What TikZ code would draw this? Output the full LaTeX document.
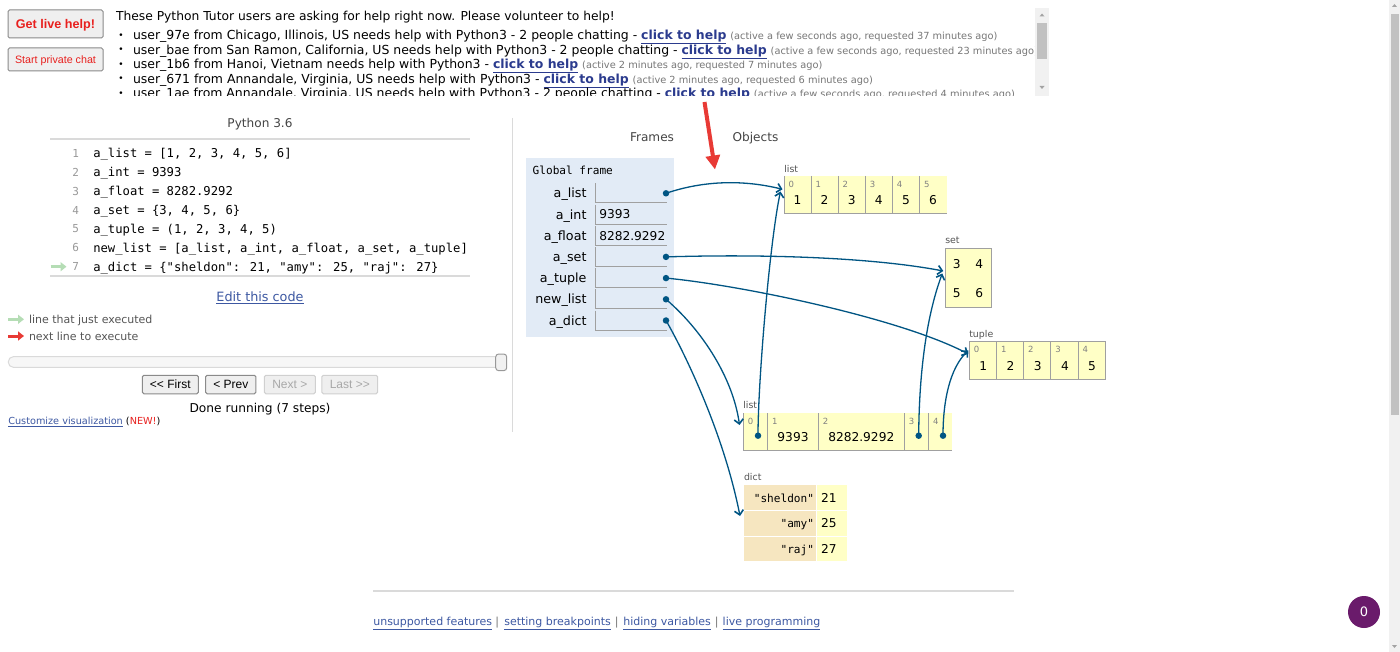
\documentclass[tikz,border=0pt]{standalone}
\usepackage{fontspec}
\setmainfont{DejaVu Sans}
\newfontfamily\arialf{Liberation Sans}
\newfontfamily\monof{DejaVu Sans Mono}
\usetikzlibrary{arrows.meta}
\definecolor{ptblue}{HTML}{005583}
\definecolor{objfill}{HTML}{FFFFC6}
\definecolor{framefill}{HTML}{E2EBF6}
\definecolor{keyfill}{HTML}{F6E6C0}
\definecolor{cellgray}{HTML}{A0A0A0}
\definecolor{linkblue}{HTML}{3D58A2}
\definecolor{helpblue}{HTML}{2B3B8E}
\definecolor{txtgray}{HTML}{444444}
\definecolor{idxgray}{HTML}{808080}
\definecolor{lblgray}{HTML}{555555}
\definecolor{lngray}{HTML}{999999}
\definecolor{actgray}{HTML}{777777}
\definecolor{purp}{HTML}{6A1B6B}
\definecolor{btnborder}{HTML}{8A8A8A}
\definecolor{btnfill}{HTML}{EFEFEF}
\definecolor{btnred}{HTML}{E8201E}
\definecolor{dimborder}{HTML}{D0D0D0}
\definecolor{dimtext}{HTML}{A8A8A8}
\definecolor{rulegray}{HTML}{DADADA}
\definecolor{sbtrack}{HTML}{F1F1F1}
\definecolor{sbthumb}{HTML}{C1C1C1}
\definecolor{sbarrow}{HTML}{A3A3A3}
\definecolor{arrgreen}{HTML}{B5DDB5}
\definecolor{arrred}{HTML}{E83A35}
\newcommand\ptclick{{\color{helpblue}\underline{\textbf{click to help}}}}
\newcommand\ptact[1]{{\fontsize{9.8}{10}\selectfont\color{actgray}#1}}
\begin{document}
\begin{tikzpicture}[x=1pt,y=-1pt,
  every node/.style={inner sep=0pt,outer sep=0pt},
  fs/.style={font=\fontsize{#1}{#1}\selectfont,text height={0.73*#1pt},text depth=0pt},
  ms/.style={font=\monof\fontsize{#1}{#1}\selectfont,text height={0.73*#1pt},text depth=0pt},
  as/.style={font=\arialf\fontsize{#1}{#1}\selectfont,text height={0.73*#1pt},text depth=0pt},
  cell/.style={draw=cellgray,line width=0.9pt},
  ptr/.style={draw=ptblue,line width=1.3pt,-{Straight Barb[length=4.5pt,width=9pt,line width=1.6pt]}},
  dot/.style={circle,fill=ptblue,minimum size=6.5pt},
  idx/.style={fs=8.5,text=idxgray,anchor=west},
  val/.style={fs=12.2},
  hlbl/.style={fs=9.4,text=lblgray,anchor=west},
  btn/.style={draw=btnborder,fill=btnfill,line width=1pt,rounded corners=1.5pt},
  navbtn/.style={btn,as=12,minimum height=18.5pt},
  dimbtn/.style={draw=dimborder,fill=btnfill,line width=1pt,rounded corners=1.5pt,as=12,minimum height=18.5pt,text=dimtext},
  lnk/.style={fs=11,text=linkblue,anchor=west},
  legarrow/.style={line width=3pt,-{Triangle[length=6pt,width=9pt]}}
]
\useasboundingbox (0,0) rectangle (1400,652);
\fill[white] (0,0) rectangle (1400,652);

% ---------- top help area ----------
\node[btn,as=12.6,minimum width=95pt,minimum height=28pt,text=btnred] (bhelp) at (55.5,24) {\bfseries Get live help!};
\node[btn,as=10.7,minimum width=95pt,minimum height=23pt,text=btnred] (bchat) at (55.5,59.5) {Start private chat};
\node[fs=12.3,anchor=west] (hdr) at (116,16) {These Python Tutor users are asking for help right now. Please volunteer to help!};
\begin{scope}
\clip (105,26) rectangle (1034,96);
\foreach \k/\yy in {1/35,2/49.5,3/64,4/78.5,5/93} {\node[fs=9] (bul\k) at (121,\yy) {\textbullet};}
\node[fs=12.45,anchor=west] (u1) at (133,35) {user\_97e from Chicago, Illinois, US needs help with Python3 - 2 people chatting - \ptclick{} \ptact{(active a few seconds ago, requested 37 minutes ago)}};
\node[fs=12.45,anchor=west] (u2) at (133,49.5) {user\_bae from San Ramon, California, US needs help with Python3 - 2 people chatting - \ptclick{} \ptact{(active a few seconds ago, requested 23 minutes ago)}};
\node[fs=12.45,anchor=west] (u3) at (133,64) {user\_1b6 from Hanoi, Vietnam needs help with Python3 - \ptclick{} \ptact{(active 2 minutes ago, requested 7 minutes ago)}};
\node[fs=12.45,anchor=west] (u4) at (133,78.5) {user\_671 from Annandale, Virginia, US needs help with Python3 - \ptclick{} \ptact{(active 2 minutes ago, requested 6 minutes ago)}};
\node[fs=12.45,anchor=west] (u5) at (133,93) {user\_1ae from Annandale, Virginia, US needs help with Python3 - 2 people chatting - \ptclick{} \ptact{(active a few seconds ago, requested 4 minutes ago)}};
\end{scope}
\fill[sbtrack] (1035,8) rectangle (1049,96);
\fill[sbthumb] (1037,23) rectangle (1047,59);
\fill[sbarrow] (1039.5,16.5) -- (1044.5,16.5) -- (1042,13.5) -- cycle;
\fill[sbarrow] (1039.5,86) -- (1044.5,86) -- (1042,89) -- cycle;

% ---------- code panel ----------
\node[fs=12.1,text=txtgray] (pyver) at (260,123) {Python 3.6};
\draw[rulegray,line width=2pt] (50,139.3) -- (470,139.3);
\foreach \i/\yy in {1/153.3,2/172.2,3/191.1,4/210,5/228.9,6/247.8,7/266.7} {\node[ms=11,text=lngray,anchor=east] (n\i) at (79,\yy) {\i};}
\node[ms=12.2,anchor=west] (c1) at (93.3,153.3) {a\_list = [1, 2, 3, 4, 5, 6]};
\node[ms=12.2,anchor=west] (c2) at (93.3,172.2) {a\_int = 9393};
\node[ms=12.2,anchor=west] (c3) at (93.3,191.1) {a\_float = 8282.9292};
\node[ms=12.2,anchor=west] (c4) at (93.3,210) {a\_set = \{3, 4, 5, 6\}};
\node[ms=12.2,anchor=west] (c5) at (93.3,228.9) {a\_tuple = (1, 2, 3, 4, 5)};
\node[ms=12.2,anchor=west] (c6) at (93.3,247.8) {new\_list = [a\_list, a\_int, a\_float, a\_set, a\_tuple]};
\node[ms=12.2,anchor=west] (c7) at (93.3,266.7) {a\_dict = \{"sheldon": 21, "amy": 25, "raj": 27\}};
\draw[legarrow,arrgreen] (50.5,266.7) -- (66.5,266.7);
\draw[rulegray,line width=1.5pt] (50,276) -- (470,276);
\node[fs=12.8,text=linkblue] (edit) at (260,297.3) {\underline{Edit this code}};
\draw[legarrow,arrgreen] (8.3,319.3) -- (24,319.3);
\node[fs=11,text=lblgray,anchor=west] (leg1) at (29,319.3) {line that just executed};
\draw[legarrow,arrred] (8.3,336) -- (24,336);
\node[fs=11,text=lblgray,anchor=west] (leg2) at (29,336) {next line to execute};
\draw[rounded corners=5pt,fill=sbtrack!60,draw=rulegray,line width=1pt] (8.3,356.7) rectangle (500,367.3);
\draw[rounded corners=3pt,fill=sbtrack,draw=lngray,line width=1pt] (495.7,354) rectangle (506.7,370.7);
\node[navbtn,minimum width=56pt] (bfirst) at (170.3,384.5) {<\kern0pt< First};
\node[navbtn,minimum width=50.3pt] (bprev) at (230.8,384.5) {< Prev};
\node[dimbtn,minimum width=51pt] (bnext) at (289.8,384.5) {Next >};
\node[dimbtn,minimum width=55.7pt] (blast) at (349.8,384.5) {Last >\kern0pt>};
\node[fs=12.2] (done) at (260,408.3) {Done running (7 steps)};
\node[fs=9.7,anchor=west] (cust) at (8.3,420.7) {{\color{linkblue}\underline{Customize visualization}} ({\color{btnred}NEW!})};
\draw[rulegray,line width=1.5pt] (512.5,118) -- (512.5,432);

% ---------- frames ----------
\node[fs=12.1,text=txtgray] (frames) at (652,137.3) {Frames};
\node[fs=12.1,text=txtgray] (objects) at (755.5,137.3) {Objects};
\fill[framefill] (526,158) rectangle (674,337);
\node[ms=11.1,anchor=west] (gf) at (532.7,170) {Global frame};
\foreach \i/\nm/\yy in {1/a\_list/193.3,2/a\_int/214.5,3/a\_float/235.7,4/a\_set/256.9,5/a\_tuple/278.1,6/new\_list/299.3,7/a\_dict/320.5} {
  \node[fs=12.7,anchor=east] (v\i) at (586.5,\yy) {\nm};
  \draw[cell] (595.5,\yy-9.8) -- (595.5,\yy+9.6) -- (667,\yy+9.6);
}
\node[val,anchor=west] (vint) at (599.3,214.5) {9393};
\node[val,anchor=west] (vfloat) at (599.3,235.7) {8282.9292};
\node[dot] (dlist) at (666,193.3) {};
\node[dot] (dset) at (666,256.9) {};
\node[dot] (dtuple) at (666,278.1) {};
\node[dot] (dnew) at (666,299.3) {};
\node[dot] (ddict) at (666,320.5) {};

% ---------- heap: top list ----------
\node[hlbl] (lbllist) at (784.3,169.3) {list};
\fill[objfill] (784,176) rectangle (946.5,213.5);
\foreach \i in {0,...,5} {
  \pgfmathsetmacro{\xx}{784+27.1*\i}
  \pgfmathtruncatemacro{\vv}{\i+1}
  \draw[cell] (\xx,176) -- (\xx,213.5);
  \node[idx] (tli\i) at (\xx+4.5,184) {\i};
  \node[val] (tlv\i) at (\xx+13.5,200) {\vv};
}
\draw[cell] (784,213.5) -- (946.5,213.5);
\coordinate (tlin) at (782.5,189.3);
\coordinate (tlin2) at (780.5,191.5);

% ---------- heap: set ----------
\node[hlbl] (lblset) at (945.3,240.5) {set};
\draw[cell,fill=objfill] (945.5,248.3) rectangle (991.5,307);
\node[val] (s3) at (956.7,264.3) {3};
\node[val] (s4) at (979.3,264.3) {4};
\node[val] (s5) at (956.7,293.3) {5};
\node[val] (s6) at (979.3,293.3) {6};
\coordinate (setin) at (943.3,271);
\coordinate (setin2) at (942.3,273.5);

% ---------- heap: tuple ----------
\node[hlbl] (lbltuple) at (969.3,334) {tuple};
\draw[cell,fill=objfill] (969.3,341) rectangle (1105.3,379.3);
\foreach \i in {0,...,4} {
  \pgfmathsetmacro{\xx}{969.3+27.2*\i}
  \pgfmathtruncatemacro{\vv}{\i+1}
  \draw[cell] (\xx,341) -- (\xx,379.3);
  \node[idx] (tpi\i) at (\xx+4.5,349.3) {\i};
  \node[val] (tpv\i) at (\xx+14,366) {\vv};
}
\coordinate (tupin) at (968.3,354);
\coordinate (tupin2) at (968.3,350.5);

% ---------- heap: new list ----------
\node[hlbl] (lblnew) at (743.3,405.5) {list};
\fill[objfill] (743.3,413.3) rectangle (952.3,450.7);
\foreach \i/\xx in {0/743.3,1/767.7,2/818.3,3/904.3,4/928.7} {
  \draw[cell] (\xx,413.3) -- (\xx,450.7);
  \node[idx] (nli\i) at (\xx+4.5,421.7) {\i};
}
\draw[cell] (743.3,450.7) -- (952.3,450.7);
\node[val] (nlv1) at (793,436.7) {9393};
\node[val] (nlv2) at (861.3,436.7) {8282.9292};
\node[dot] (dn0) at (758,435.7) {};
\node[dot] (dn3) at (918.7,435.7) {};
\node[dot] (dn4) at (943,435.7) {};
\coordinate (newin) at (739.5,425);

% ---------- heap: dict ----------
\node[hlbl] (lbldict) at (744,477.3) {dict};
\fill[keyfill] (744,485) rectangle (816.7,561);
\fill[objfill] (816.7,485) rectangle (846.7,561);
\draw[white,line width=1.6pt] (744,510.5) -- (846.7,510.5);
\draw[white,line width=1.6pt] (744,536.3) -- (846.7,536.3);
\draw[white,line width=1.2pt] (816.7,485) -- (816.7,561);
\node[ms=11.1,anchor=east] (k1) at (814,498.3) {"sheldon"};
\node[ms=11.1,anchor=east] (k2) at (814,523.5) {"amy"};
\node[ms=11.1,anchor=east] (k3) at (814,549.3) {"raj"};
\node[val,anchor=west] (kv1) at (821,498.3) {21};
\node[val,anchor=west] (kv2) at (821,523.5) {25};
\node[val,anchor=west] (kv3) at (821,549.3) {27};
\coordinate (dictin) at (740,516);

% ---------- pointers ----------
\draw[ptr] (dlist.center) .. controls (705,180) and (745,180) .. (tlin);
\draw[ptr] (dset.center) .. controls (760,254) and (870,257) .. (setin);
\draw[ptr] (dtuple.center) .. controls (740,285) and (900,318) .. (tupin);
\draw[ptr] (dnew.center) .. controls (702,330) and (733,378) .. (newin);
\draw[ptr] (ddict.center) .. controls (682,348) and (723,430) .. (dictin);
\draw[ptr] (dn0.center) .. controls (758,380) and (770,240) .. (tlin2);
\draw[ptr] (dn3.center) .. controls (919,380) and (925,320) .. (setin2);
\draw[ptr] (dn4.center) .. controls (943,400) and (950,368) .. (tupin2);

% ---------- red annotation arrow ----------
\coordinate (redstart) at (704.5,102);
\coordinate (redend) at (715,169.5);
\draw[arrred,line width=4pt,-{Triangle[length=14pt,width=14pt]}] (redstart) -- (redend);

% ---------- footer ----------
\draw[rulegray,line width=2pt] (373,591) -- (1014,591);
\node[lnk] (f1) at (373.3,621.7) {\underline{unsupported features}};
\node[fs=11,text=actgray] (s1) at (497.3,621.7) {|};
\node[lnk] (f2) at (504.3,621.7) {\underline{setting breakpoints}};
\node[fs=11,text=actgray] (s2) at (616.7,621.7) {|};
\node[lnk] (f3) at (623.3,621.7) {\underline{hiding variables}};
\node[fs=11,text=actgray] (s3b) at (716.7,621.7) {|};
\node[lnk] (f4) at (722.7,621.7) {\underline{live programming}};

% ---------- chat bubble & page scrollbar ----------
\node[circle,fill=purp,minimum size=32pt,text=white,fs=13] (chat) at (1364,612) {0};
\fill[sbtrack] (1389,0) rectangle (1400,652);
\fill[sbthumb] (1390.5,14) rectangle (1399,415);
\fill[sbarrow] (1392,7) -- (1397,7) -- (1394.5,4) -- cycle;
\fill[sbarrow] (1392,645) -- (1397,645) -- (1394.5,648) -- cycle;
\end{tikzpicture}
\end{document}
